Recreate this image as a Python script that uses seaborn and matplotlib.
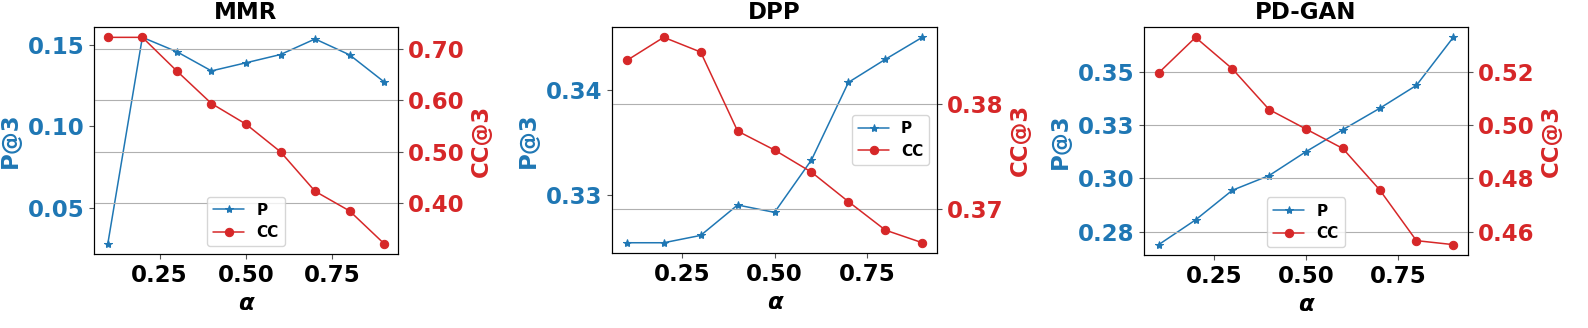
import matplotlib
matplotlib.use("Agg")
import matplotlib.pyplot as plt
import seaborn as sns
from matplotlib.ticker import FormatStrFormatter

sns.set_style("ticks")
plt.rcParams["font.family"] = ["DejaVu Sans"]
plt.rcParams["font.weight"] = "bold"
plt.rcParams["text.color"] = "black"
plt.rcParams["axes.labelcolor"] = "black"
plt.rcParams["xtick.color"] = "#555555"
plt.rcParams["ytick.color"] = "#555555"

alpha = [0.1, 0.2, 0.3, 0.4, 0.5, 0.6, 0.7, 0.8, 0.9]

titles = ["MMR", "DPP", "PD-GAN"]

mmr_p = [0.0277, 0.1550, 0.1461, 0.1343, 0.1393, 0.1444, 0.1540, 0.1442, 0.1275]
mmr_cc = [0.7235, 0.7235, 0.6575, 0.5940, 0.5536, 0.4994, 0.4222, 0.3837, 0.3196]

dpp_p = [0.3254, 0.3254, 0.3261, 0.3290, 0.3283, 0.3333, 0.3407, 0.3429, 0.3450]
dpp_cc = [0.3841, 0.3863, 0.3849, 0.3774, 0.3756, 0.3735, 0.3707, 0.3680, 0.3668]

pdgan_p = [0.2689, 0.2805, 0.2944, 0.3013, 0.3125, 0.3228, 0.3328, 0.3436, 0.3661]
pdgan_cc = [0.5196, 0.5329, 0.5211, 0.5058, 0.4985, 0.4912, 0.4757, 0.4566, 0.4551]

left_ticks = [[0.05, 0.10, 0.15], [0.33, 0.34], [0.275, 0.300, 0.325, 0.350]]
right_ticks = [[0.40, 0.50, 0.60, 0.70], [0.37, 0.38], [0.46, 0.48, 0.50, 0.52]]
legend_locs = ["lower center", "center right", "lower center"]

P_COLOR = "tab:blue"
CC_COLOR = "tab:red"

fig = plt.figure(figsize=(15.88, 3.28), dpi=100)
positions = [
    [0.0592, 0.2256, 0.1914, 0.692],
    [0.3854, 0.2286, 0.2047, 0.689],
    [0.7204, 0.2226, 0.2040, 0.695],
]

panels = [(mmr_p, mmr_cc), (dpp_p, dpp_cc), (pdgan_p, pdgan_cc)]

for i, (p_vals, cc_vals) in enumerate(panels):
    ax = fig.add_axes(positions[i])
    sns.lineplot(x=alpha, y=p_vals, ax=ax, color=P_COLOR, marker="*", markersize=6,
                 markeredgecolor=P_COLOR, linewidth=1.1, legend=False)
    ax.lines[0].set_label("P")
    ax2 = ax.twinx()
    sns.lineplot(x=alpha, y=cc_vals, ax=ax2, color=CC_COLOR, marker="o", markersize=6,
                 markeredgecolor=CC_COLOR, linewidth=1.1, legend=False)
    ax2.lines[0].set_label("CC")

    ax.set_yticks(left_ticks[i])
    ax.yaxis.set_major_formatter(FormatStrFormatter("%.2f"))
    ax2.set_yticks(right_ticks[i])
    ax2.yaxis.set_major_formatter(FormatStrFormatter("%.2f"))
    ax.set_xticks([0.25, 0.50, 0.75])
    ax.xaxis.set_major_formatter(FormatStrFormatter("%.2f"))

    for a in (ax, ax2):
        a.tick_params(length=3.5, width=0.8, pad=3.5)
    ax.tick_params(axis="y", labelcolor=P_COLOR, labelsize=16.5)
    ax.tick_params(axis="x", labelcolor="black", labelsize=16.5)
    ax2.tick_params(axis="y", labelcolor=CC_COLOR, labelsize=16.5)
    for lab in ax.get_xticklabels() + ax.get_yticklabels() + ax2.get_yticklabels():
        lab.set_fontweight("bold")

    ax.set_ylabel("P@3", color=P_COLOR, fontsize=16.5, fontweight="bold")
    ax2.set_ylabel("CC@3", color=CC_COLOR, fontsize=16.5, fontweight="bold")
    ax.set_xlabel("α", fontsize=16.5, fontweight="bold", style="italic")
    ax.set_title(titles[i], fontsize=16.5, fontweight="bold")

    ax2.grid(axis="y", color="#b0b0b0", linewidth=0.8)
    for spine in ax.spines.values():
        spine.set_color("black")
    for spine in ax2.spines.values():
        spine.set_color("black")

    handles = ax.lines[:1] + ax2.lines[:1]
    ax2.legend(handles, ["P", "CC"], loc=legend_locs[i], prop={"weight": "bold", "size": 11})

fig.savefig("out.png", dpi=100)
